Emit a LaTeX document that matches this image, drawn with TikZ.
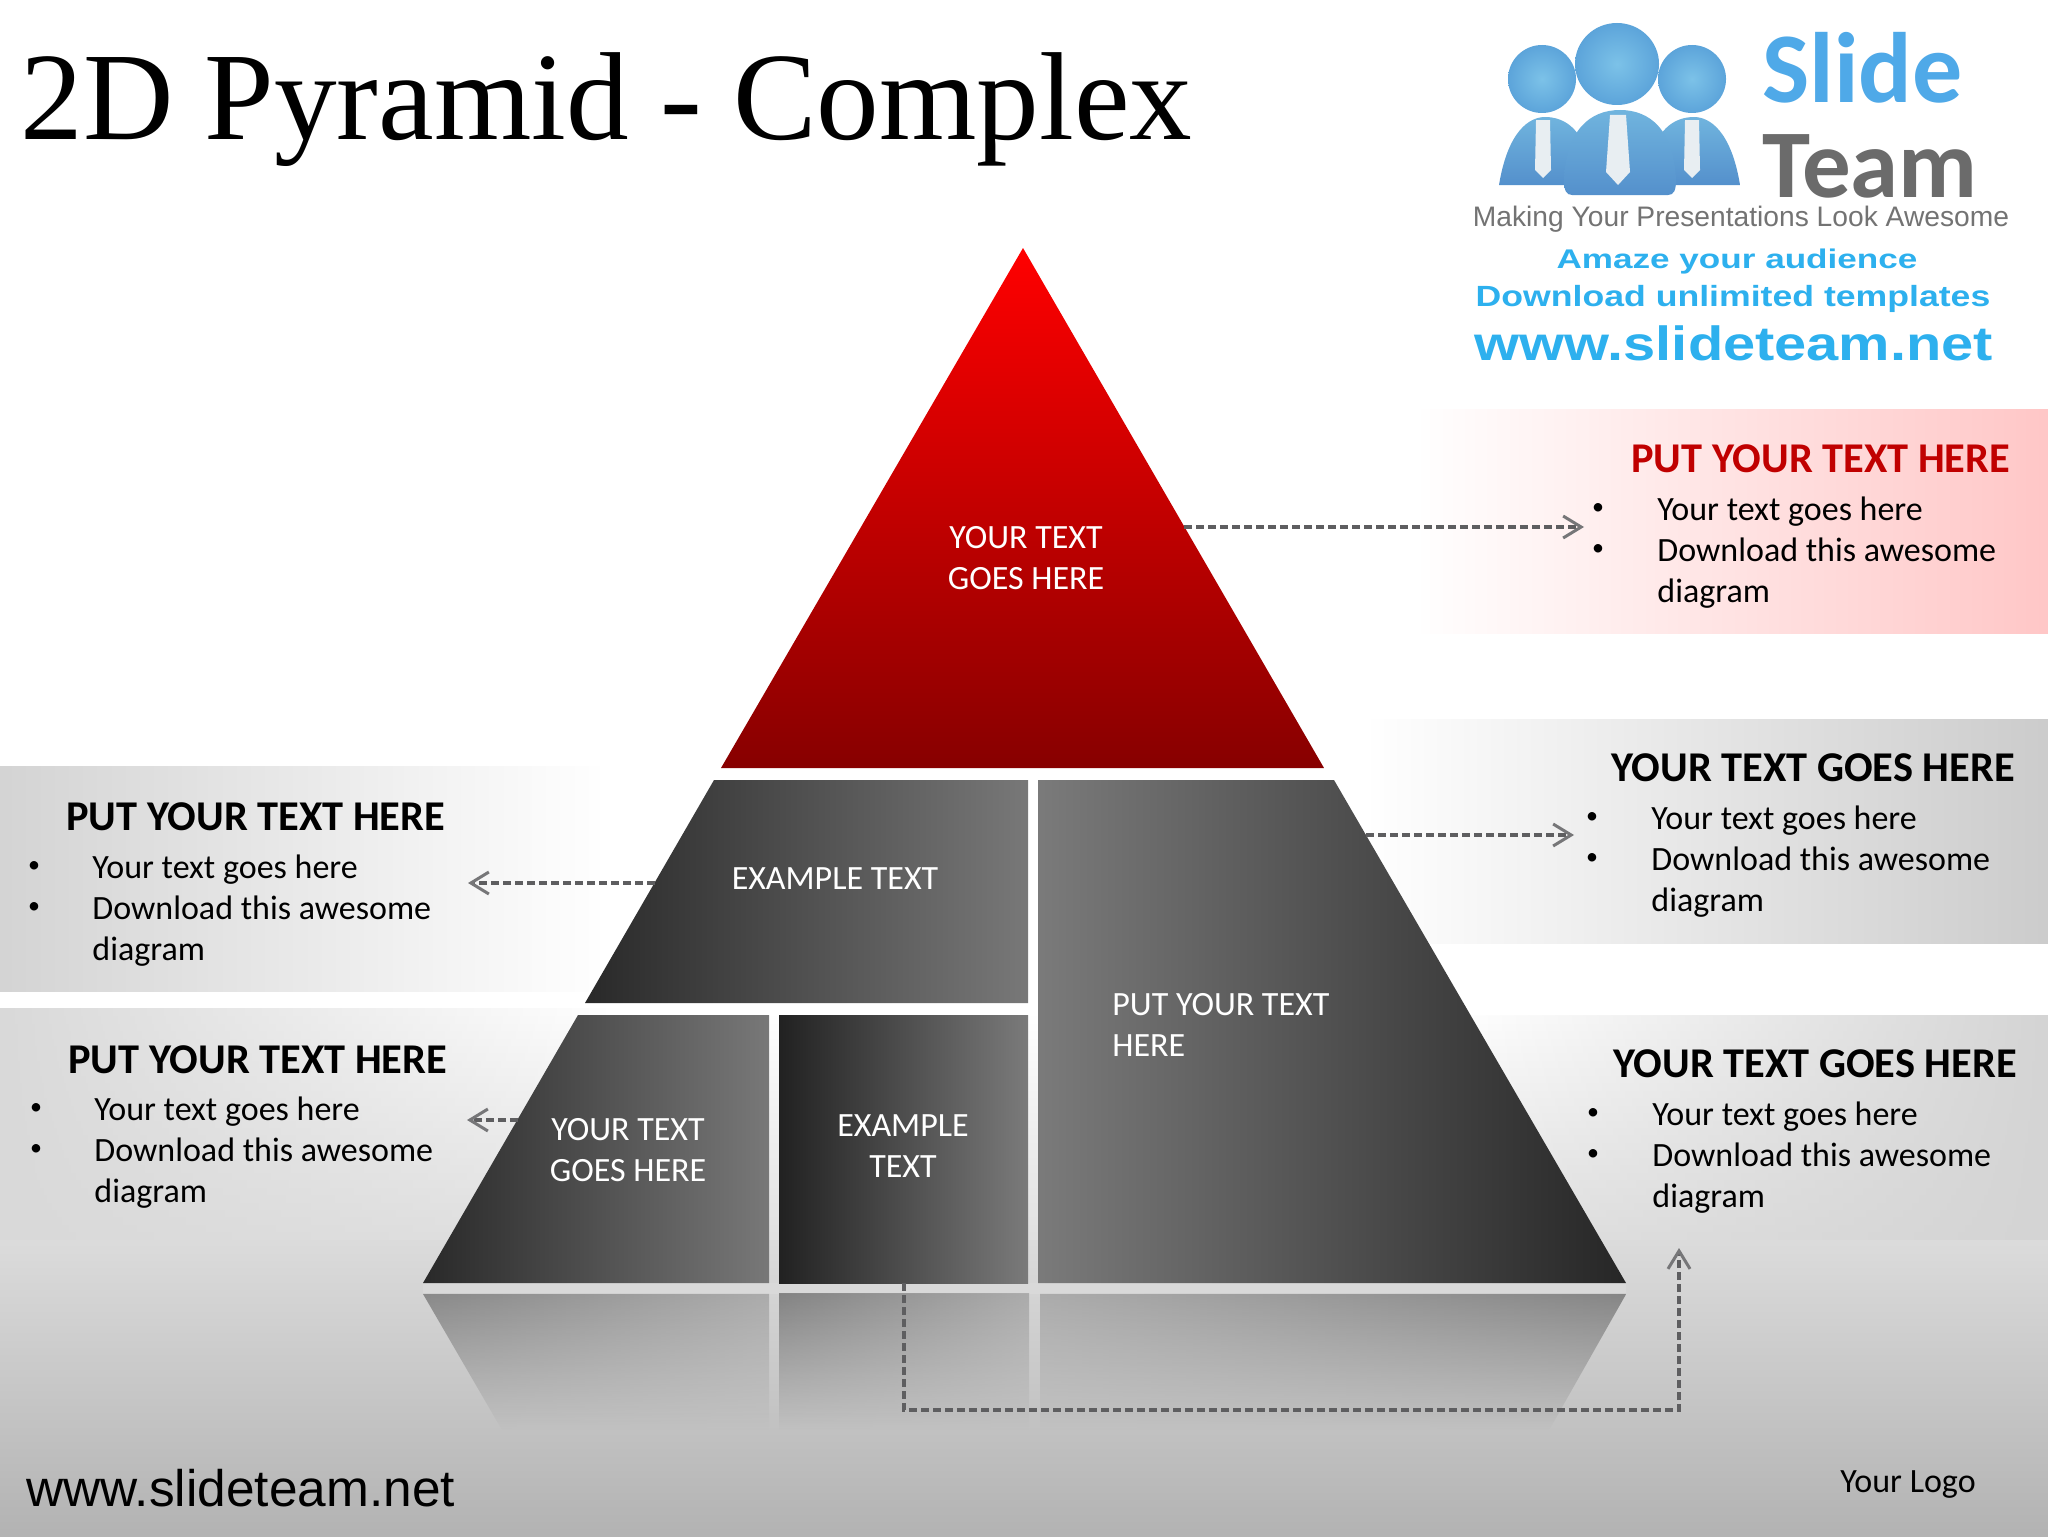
\documentclass[tikz,border=0pt]{standalone}
\usepackage{fontspec}
\usepackage{graphicx}
\setmainfont{Carlito}
\newfontfamily\ttlfont{Liberation Serif}
\newfontfamily\arlfont{Liberation Sans}
\usetikzlibrary{arrows.meta,fadings}
\definecolor{redhead}{HTML}{C00000}
\definecolor{conn}{HTML}{5E5E60}
\definecolor{logoblue}{HTML}{2DB0EE}
\definecolor{slideblue}{HTML}{4FA9E8}
\definecolor{hdA}{HTML}{7CC2E8}
\definecolor{hdB}{HTML}{5CA4DA}
\definecolor{bdA}{HTML}{70B4DE}
\definecolor{bdB}{HTML}{5490CC}
\definecolor{tiecol}{HTML}{E8EEF2}
\tikzfading[name=fadeToRight, left color=transparent!0, right color=transparent!100]
\tikzfading[name=fadeToLeft, left color=transparent!100, right color=transparent!0]
\tikzfading[name=reflfade, top color=transparent!55, middle color=transparent!90, bottom color=transparent!100]
\tikzset{
  block/.style={draw=none},
  bodyfont/.style={font=\fontsize{17}{20.5}\selectfont},
  labeltxt/.style={bodyfont,text=white,inner sep=0pt,align=center,anchor=base},
  headtxt/.style={font=\fontsize{21.2}{26}\selectfont\bfseries,inner sep=0pt,anchor=base west},
  bodytxt/.style={bodyfont,inner sep=0pt,anchor=base west,align=left,text=black},
  bullettxt/.style={font=\fontsize{12}{14}\selectfont,inner sep=0pt,anchor=center,text=black},
  connector/.style={draw=conn,line width=1.6pt,dash pattern=on 4pt off 2pt,
    -{Straight Barb[length=9pt,width=11pt,line width=1.5pt,color=conn!85]}},
  logohead/.style={inner color=hdA,outer color=hdB,draw=none},
  logobody/.style={top color=bdA,bottom color=bdB,draw=none},
  tie/.style={fill=tiecol,draw=none},
}
% name, heading colour, heading, hx, hy, bx, b1y, bulletx
\newcommand{\sidepanel}[8]{%
  \node[headtxt,text=#2] (#1h) at (#4,#5) {#3};
  \node[bodytxt] (#1a) at (#6,#7) {Your text goes here};
  \node[bodytxt] (#1b) at (#6,#7+82) {Download this awesome\\diagram};
  \node[bullettxt] (#1p) at (#8,#7-11) {•};
  \node[bullettxt] (#1q) at (#8,#7+30) {•};
}
\begin{document}
\begin{tikzpicture}[x=0.5pt,y=-0.5pt]
\useasboundingbox (0,0) rectangle (2048,1536);
\fill[white] (0,0) rectangle (2048,1536);
% backgrounds
\shade[top color=white,bottom color=white!88!black] (0,1012) rectangle (2048,1240);
\shade[top color=white!86!black,bottom color=white!70!black] (0,1240) rectangle (2048,1536);
\fill[color=white!83!black,path fading=fadeToRight] (0,766) rectangle (600,992);
\fill[color=white!85!black,path fading=fadeToRight] (0,1008) rectangle (620,1240);
\fill[color=red!22!white,path fading=fadeToLeft] (1420,409) rectangle (2048,634);
\fill[color=white!80!black,path fading=fadeToLeft] (1370,719) rectangle (2048,944);
\fill[color=white!83!black,path fading=fadeToLeft] (1460,1015) rectangle (2048,1240);
% ledge and reflection
\fill[white!85!black] (423,1283) rectangle (1626,1294);
\path[left color=black!82,right color=black!52,path fading=reflfade] (423,1294) -- (769,1294) -- (769,1430) -- (502,1430) -- cycle;
\path[left color=black!87,right color=black!52,path fading=reflfade] (779,1294) -- (1029,1294) -- (1029,1430) -- (779,1430) -- cycle;
\path[left color=black!52,right color=black!85,path fading=reflfade] (1040,1294) -- (1626,1294) -- (1549,1430) -- (1040,1430) -- cycle;
% pyramid
\path[block,top color=red,middle color=red!80!black,bottom color=red!53!black] (1023,248) -- (1324,768) -- (721,768) -- cycle;
\path[block,left color=black!84,middle color=black!74,right color=black!53] (714,780) -- (1028,780) -- (1028,1003) -- (585,1003) -- cycle;
\path[block,left color=black!84,middle color=black!76,right color=black!53] (578,1015) -- (769,1015) -- (769,1283) -- (423,1283) -- cycle;
\path[block,left color=black!87,middle color=black!77,right color=black!52] (779,1015) -- (1028,1015) -- (1028,1283) -- (779,1283) -- cycle;
\path[block,left color=black!52,middle color=black!74,right color=black!85] (1038,780) -- (1334,780) -- (1626,1283) -- (1038,1283) -- cycle;
% pyramid labels
\node[labeltxt] (lblTop) at (1026,589) {YOUR TEXT\\GOES HERE};
\node[labeltxt] (lblMid) at (835,889) {EXAMPLE TEXT};
\node[labeltxt,align=left,anchor=base west] (lblBig) at (1112,1056) {PUT YOUR TEXT\\HERE};
\node[labeltxt] (lblLow) at (628,1181) {YOUR TEXT\\GOES HERE};
\node[labeltxt] (lblEx) at (903,1177) {EXAMPLE\\TEXT};
% panels
\sidepanel{pa}{black}{PUT YOUR TEXT HERE}{66}{830}{92}{878}{34}
\sidepanel{pb}{black}{PUT YOUR TEXT HERE}{68}{1073}{94}{1120}{36}
\sidepanel{pc}{redhead}{PUT YOUR TEXT HERE}{1631}{472}{1657}{520}{1598}
\sidepanel{pd}{black}{YOUR TEXT GOES HERE}{1611}{781}{1651}{829}{1592}
\sidepanel{pe}{black}{YOUR TEXT GOES HERE}{1613}{1077}{1652}{1125}{1593}
% connectors
\coordinate (c1s) at (1184,527); \coordinate (c1e) at (1584,527);
\coordinate (c2s) at (1366,835); \coordinate (c2e) at (1574,835);
\coordinate (c3s) at (655,883);  \coordinate (c3e) at (468,883);
\coordinate (c4s) at (518,1120); \coordinate (c4e) at (467,1120);
\coordinate (c5s) at (904,1283); \coordinate (c5a) at (904,1410);
\coordinate (c5b) at (1679,1410); \coordinate (c5e) at (1679,1248);
\draw[connector] (c1s) -- (c1e);
\draw[connector] (c2s) -- (c2e);
\draw[connector] (c3s) -- (c3e);
\draw[connector] (c4s) -- (c4e);
\draw[connector] (c5s) -- (c5a) -- (c5b) -- (c5e);
% title and footer
\node[font=\fontsize{62.6}{70}\selectfont\ttlfont,inner sep=0pt,anchor=base west] (title) at (20,140) {2D Pyramid - Complex};
\node[font=\fontsize{25.7}{30}\selectfont\arlfont,inner sep=0pt,anchor=base west] (site) at (26,1506) {www.slideteam.net};
\node[bodyfont,inner sep=0pt,anchor=base west] (yourlogo) at (1840,1492) {Your Logo};
% logo figures
\path[logohead] (1542,79) circle (34);
\path[logohead] (1692,79) circle (34);
\path[logobody] (1499,185) .. controls (1508,130) and (1530,117) .. (1545,117) .. controls (1565,117) and (1580,130) .. (1585,150) -- (1570,185) -- cycle;
\path[logobody] (1740,185) .. controls (1731,130) and (1709,117) .. (1694,117) .. controls (1674,117) and (1659,130) .. (1654,150) -- (1669,185) -- cycle;
\path[logohead] (1617,64) ellipse (42 and 41);
\path[logobody] (1572,195) .. controls (1566,195) and (1564,190) .. (1564,180) .. controls (1566,130) and (1590,110) .. (1620,110) .. controls (1650,110) and (1674,130) .. (1676,180) .. controls (1676,190) and (1674,195) .. (1668,195) -- cycle;
\path[tie] (1536,120) -- (1550,120) -- (1551,170) -- (1543,178) -- (1535,170) -- cycle;
\path[tie] (1685,120) -- (1699,120) -- (1700,170) -- (1692,178) -- (1684,170) -- cycle;
\path[tie] (1610,115) -- (1626,115) -- (1630,172) -- (1618,185) -- (1606,172) -- cycle;
% logo text
\node[font=\fontsize{50}{52}\selectfont\bfseries,text=slideblue,inner sep=0pt,anchor=base west] (slide) at (1762,103) {Slide};
\node[font=\fontsize{48.5}{50}\selectfont\bfseries,text=black!58,inner sep=0pt,anchor=base west] (team) at (1762,197) {Team};
\node[font=\fontsize{14.1}{16}\selectfont\arlfont,text=black!55,inner sep=0pt,anchor=base] (mk) at (1741,226) {Making Your Presentations Look Awesome};
\node[font=\fontsize{13.5}{15}\selectfont\arlfont\bfseries,text=logoblue,inner sep=0pt,anchor=base] (am) at (1737,268) {\scalebox{1.3}[1]{Amaze your audience}};
\node[font=\fontsize{14.6}{16}\selectfont\arlfont\bfseries,text=logoblue,inner sep=0pt,anchor=base] (dl) at (1733,306) {\scalebox{1.22}[1]{Download unlimited templates}};
\node[font=\fontsize{24}{26}\selectfont\arlfont\bfseries,text=logoblue,inner sep=0pt,anchor=base] (ww) at (1734,360) {\scalebox{1.204}[1]{www.slideteam.net}};
\end{tikzpicture}
\end{document}
